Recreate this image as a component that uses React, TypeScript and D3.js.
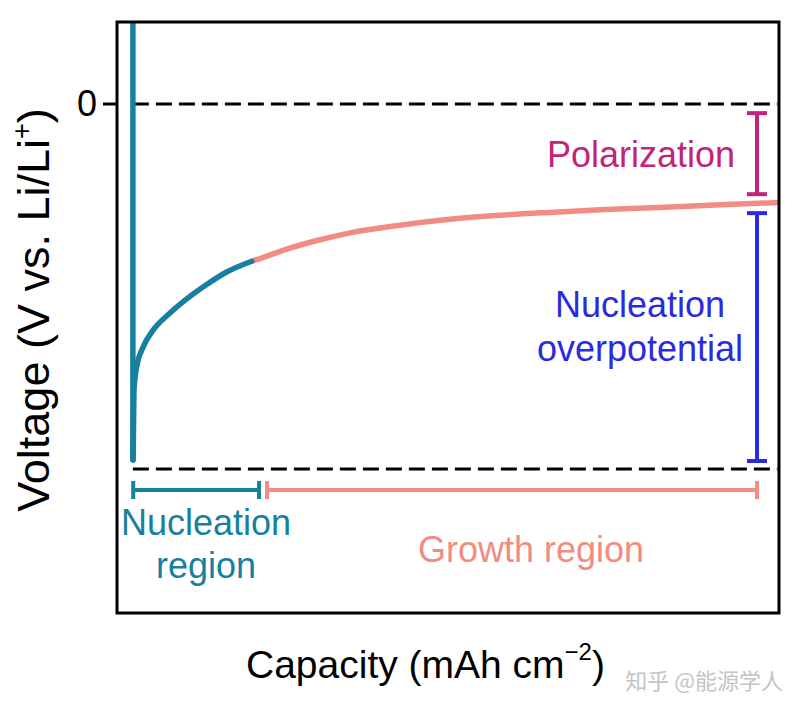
import React from "react";
import * as d3 from "d3";

// Data (capacity in arbitrary units 0..1, voltage in arbitrary units, 0 = Li/Li+)
const spikeCapacity = [0.024, 0.024];
const spikeVoltage = [0.3, -0.975];

const nucleationCapacity = [0.0243, 0.0251, 0.0257, 0.0298, 0.0397, 0.0548, 0.0801, 0.1053, 0.1355, 0.1657, 0.2035];
const nucleationVoltage = [-0.975, -0.866, -0.784, -0.72, -0.665, -0.619, -0.5726, -0.534, -0.4945, -0.4603, -0.4307];

const growthCapacity = [0.2035, 0.2311, 0.2508, 0.3021, 0.352, 0.4275, 0.503, 0.5785, 0.654, 0.7296, 0.81, 0.911, 1.0];
const growthVoltage = [-0.4307, -0.414, -0.401, -0.374, -0.353, -0.332, -0.316, -0.305, -0.297, -0.29, -0.284, -0.276, -0.27];

const refLevels = [0, -1];
const yTicks = [0];
const yTickLabels = ["0"];

// annotation spans
const nucleationRegionSpan = [0.0245, 0.2145];
const growthRegionSpan = [0.2266, 0.9668];
const regionBracketLevel = -1.0575;
const barCapacity = 0.9668;
const polarizationSpan = [-0.025, -0.247];
const overpotentialSpan = [-0.299, -0.978];

const C_TEAL = "#17809f";
const C_SALMON = "#f28c82";
const C_MAGENTA = "#c1247a";
const C_BLUE = "#2a2ae0";
const FONT = "'Liberation Sans', Arial, Helvetica, sans-serif";

export default function App() {
  const W = 803, H = 709;
  const left = 117, right = 779, top = 22, bottom = 613;
  const x = d3.scaleLinear().domain([0, 1]).range([left, right]);
  const y = d3.scaleLinear().domain([-1.3945, 0.2247]).range([bottom, top]);

  const line = d3.line<[number, number]>().x(d => x(d[0])).y(d => y(d[1]));
  const smooth = d3.line<[number, number]>().x(d => x(d[0])).y(d => y(d[1])).curve(d3.curveMonotoneX);

  const spike = spikeCapacity.map((c, i) => [c, spikeVoltage[i]] as [number, number]);
  const nuc = nucleationCapacity.map((c, i) => [c, nucleationVoltage[i]] as [number, number]);
  const gro = growthCapacity.map((c, i) => [c, growthVoltage[i]] as [number, number]);

  const capH = 9;
  const hBracket = (span: number[], color: string) => {
    const yy = y(regionBracketLevel);
    const x0 = x(span[0]), x1 = x(span[1]);
    return (
      <g stroke={color} strokeWidth={4}>
        <line x1={x0} x2={x1} y1={yy} y2={yy} />
        <line x1={x0} x2={x0} y1={yy - capH} y2={yy + capH} />
        <line x1={x1} x2={x1} y1={yy - capH} y2={yy + capH} />
      </g>
    );
  };
  const vBar = (span: number[], color: string) => {
    const xx = x(barCapacity);
    const y0 = y(span[0]), y1 = y(span[1]);
    return (
      <g stroke={color} strokeWidth={4}>
        <line x1={xx} x2={xx} y1={y0} y2={y1} />
        <line x1={xx - 10} x2={xx + 10} y1={y0} y2={y0} />
        <line x1={xx - 10} x2={xx + 10} y1={y1} y2={y1} />
      </g>
    );
  };

  return (
    <svg width={W} height={H} style={{ position: "absolute", left: 0, top: 0, background: "#fff" }} fontFamily={FONT}>
      <defs>
        <clipPath id="plotclip">
          <rect x={left} y={top} width={right - left} height={bottom - top} />
        </clipPath>
      </defs>
      {refLevels.map((v, i) => (
        <line key={i} x1={x(0.024)} x2={x(0.998)} y1={y(v)} y2={y(v)} stroke="#000" strokeWidth={3.2} strokeDasharray="16,7" />
      ))}
      <g clipPath="url(#plotclip)" fill="none" strokeWidth={5.5}>
        <path d={smooth(gro) || ""} stroke={C_SALMON} strokeLinecap="butt" />
        <path d={line(spike) || ""} stroke={C_TEAL} strokeLinecap="round" />
        <path d={smooth(nuc) || ""} stroke={C_TEAL} strokeLinecap="round" />
      </g>
      <rect x={left} y={top} width={right - left} height={bottom - top} fill="none" stroke="#000" strokeWidth={3} />
      {yTicks.map((t, i) => (
        <g key={i}>
          <line x1={left - 14} x2={left} y1={y(t)} y2={y(t)} stroke="#000" strokeWidth={3} />
          <text x={97} y={y(t) + 12} textAnchor="end" fontSize={36} fill="#000">{yTickLabels[i]}</text>
        </g>
      ))}
      {hBracket(nucleationRegionSpan, C_TEAL)}
      {hBracket(growthRegionSpan, C_SALMON)}
      {vBar(polarizationSpan, C_MAGENTA)}
      {vBar(overpotentialSpan, C_BLUE)}
      <text x={206} y={535} textAnchor="middle" fontSize={36} fill={C_TEAL}>Nucleation</text>
      <text x={206} y={578} textAnchor="middle" fontSize={36} fill={C_TEAL}>region</text>
      <text x={531} y={562} textAnchor="middle" fontSize={36} fill={C_SALMON}>Growth region</text>
      <text x={641} y={167} textAnchor="middle" fontSize={36} fill={C_MAGENTA}>Polarization</text>
      <text x={640} y={317} textAnchor="middle" fontSize={36} fill={C_BLUE}>Nucleation</text>
      <text x={640} y={361} textAnchor="middle" fontSize={36} fill={C_BLUE}>overpotential</text>
      <text transform="translate(49,310) rotate(-90)" textAnchor="middle" fontSize={45} fill="#000">
        Voltage (V vs. Li/Li<tspan fontSize={27} dy={-18}>+</tspan><tspan dy={18}>)</tspan>
      </text>
      <text x={246} y={678} fontSize={39} fill="#000">
        Capacity (mAh cm<tspan fontSize={24} dy={-18}>−2</tspan><tspan dy={18}>)</tspan>
      </text>
      <text x={783} y={689} textAnchor="end" fontSize={22} fill="#c4c4c4" fontFamily="'Noto Sans CJK SC', sans-serif">知乎 @能源学人</text>
    </svg>
  );
}
